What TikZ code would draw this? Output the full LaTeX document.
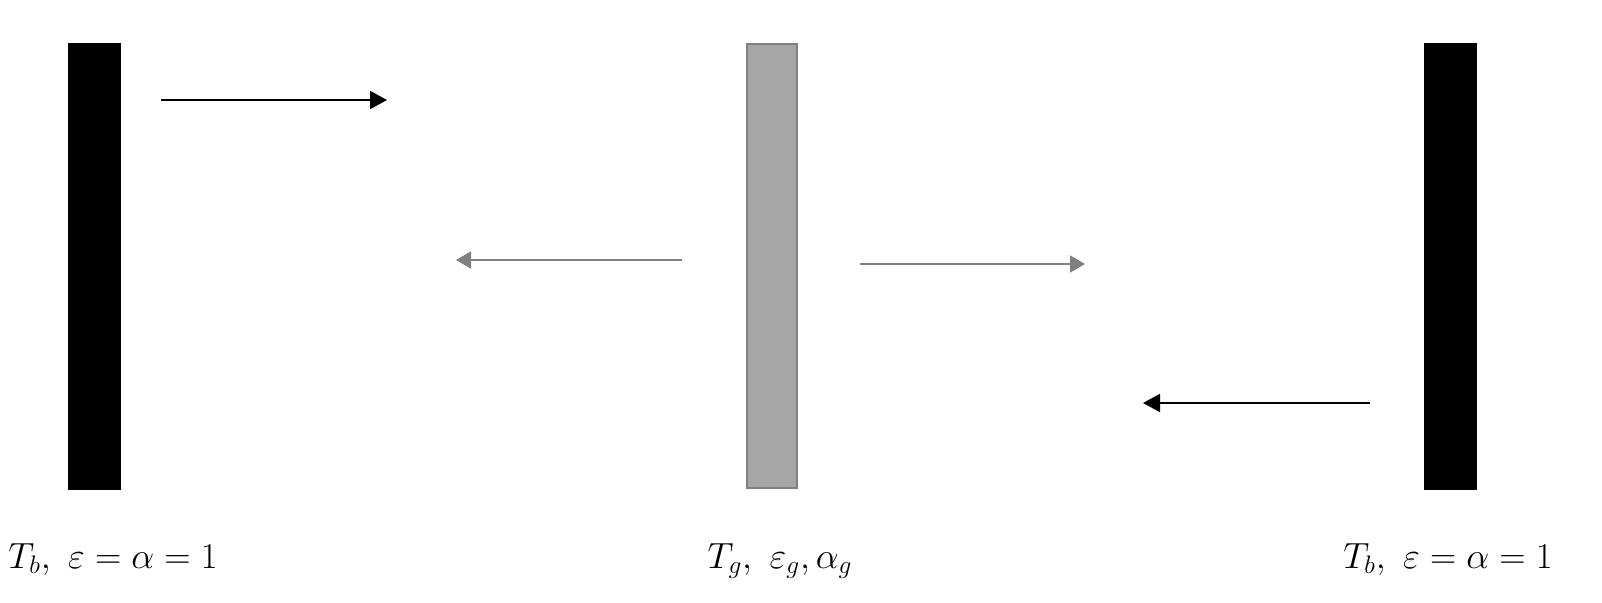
\documentclass[tikz,border=0pt]{standalone}
\usepackage{amsmath}
\usepackage{amsfonts}
\usetikzlibrary{arrows.meta,positioning}

\tikzset{
  bar/.style={draw=black, fill=black, minimum width=1.04cm, minimum height=8.92cm, inner sep=0pt},
  glass/.style={draw=black!50, fill=black!35, line width=1.2pt, minimum width=1cm, minimum height=8.88cm, inner sep=0pt},
  ray/.style={line width=1.1pt, -{Triangle[length=0.34cm,width=0.36cm]}},
  grayray/.style={draw=black!50, line width=1.1pt, -{Triangle[length=0.3cm,width=0.34cm]}},
  lab/.style={anchor=base, font=\fontsize{21.6}{26}\selectfont}
}

\begin{document}
\begin{tikzpicture}[x=0.02cm, y=-0.02cm]
\useasboundingbox (0,0) rectangle (1602,602);
\node[bar] (bl) at (94,266) {};
\node[glass] (gm) at (772,266) {};
\node[bar] (br) at (1450,266) {};
\node[lab] (tl) at (113,568) {$T_b,\ \varepsilon = \alpha = 1$};
\node[lab] (tm) at (780,568) {$T_g,\ \varepsilon_g, \alpha_g$};
\node[lab] (tr) at (1448,568) {$T_b,\ \varepsilon = \alpha = 1$};
\coordinate (a1) at (161,100);
\coordinate (a2) at (387,100);
\coordinate (b1) at (682,260);
\coordinate (b2) at (456,260);
\coordinate (c1) at (860,264);
\coordinate (c2) at (1085,264);
\coordinate (d1) at (1370,403);
\coordinate (d2) at (1143,403);
\draw[ray] (a1) -- (a2);
\draw[grayray] (b1) -- (b2);
\draw[grayray] (c1) -- (c2);
\draw[ray] (d1) -- (d2);
\end{tikzpicture}
\end{document}
